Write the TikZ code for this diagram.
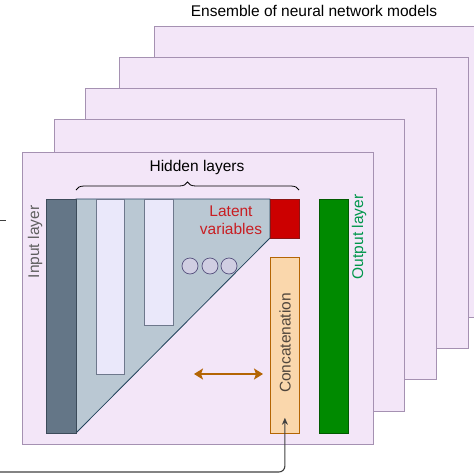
\documentclass[tikz,border=0pt]{standalone}
\usepackage{fontspec}
\setmainfont{Liberation Sans}
\usetikzlibrary{arrows.meta,decorations.pathreplacing,calc}
\definecolor{framefill}{RGB}{243,230,248}
\definecolor{framedraw}{RGB}{165,145,178}
\definecolor{inputfill}{RGB}{100,118,135}
\definecolor{inputdraw}{RGB}{60,75,90}
\definecolor{hidfill}{RGB}{186,200,211}
\definecolor{hiddraw}{RGB}{35,68,93}
\definecolor{barfill}{RGB}{234,232,250}
\definecolor{bardraw}{RGB}{110,120,140}
\definecolor{latentfill}{RGB}{204,0,0}
\definecolor{latentdraw}{RGB}{140,20,20}
\definecolor{latenttext}{RGB}{200,30,35}
\definecolor{outfill}{RGB}{0,138,0}
\definecolor{outdraw}{RGB}{0,90,0}
\definecolor{outtext}{RGB}{0,150,75}
\definecolor{concfill}{RGB}{250,215,172}
\definecolor{concdraw}{RGB}{180,101,4}
\definecolor{conctext}{RGB}{80,70,60}
\definecolor{circfill}{RGB}{208,206,226}
\definecolor{circdraw}{RGB}{86,81,126}
\definecolor{inputtext}{RGB}{95,95,95}
\tikzset{
  frame/.style={draw=framedraw, fill=framefill, line width=0.9pt},
  boxnode/.style={rectangle, inner sep=0pt, anchor=north west, line width=0.8pt},
  lbl/.style={font=\fontsize{15.5}{17.5}\selectfont, inner sep=0pt},
  dot/.style={circle, draw=circdraw, fill=circfill, minimum size=16pt, inner sep=0pt, line width=0.7pt},
}
\begin{document}
\begin{tikzpicture}[x=1pt,y=-1pt]
\useasboundingbox (0,0) rectangle (474,474);
\clip (0,0) rectangle (474,474);
% ensemble frames (back to front)
\draw[frame] (154,26) rectangle (510,317);
\draw[frame] (119,57) rectangle (468,348);
\draw[frame] (85,88) rectangle (436,379);
\draw[frame] (54,119) rectangle (404,411);
\draw[frame] (22,152) rectangle (373,444);
\node[lbl] (ensemble) at (314,11) {Ensemble of neural network models};
% hidden region
\draw[fill=hidfill, draw=hiddraw, line width=0.8pt] (76,199) -- (270,199) -- (270,238) -- (76,433) -- cycle;
% input layer
\node[boxnode, draw=inputdraw, fill=inputfill, minimum width=30pt, minimum height=234pt] (input) at (46,199) {};
\node[lbl, rotate=90, text=inputtext] (inputlbl) at (35,242) {Input layer};
% hidden bars
\node[boxnode, draw=bardraw, fill=barfill, minimum width=28pt, minimum height=175pt] (bar1) at (96,199) {};
\node[boxnode, draw=bardraw, fill=barfill, minimum width=29pt, minimum height=126pt] (bar2) at (144,199) {};
% circles
\node[dot] (c1) at (190,266) {};
\node[dot] (c2) at (210,266) {};
\node[dot] (c3) at (229,266) {};
% latent
\node[boxnode, draw=latentdraw, fill=latentfill, minimum width=29pt, minimum height=39pt] (latent) at (270,199) {};
\node[lbl, text=latenttext, align=center] (latentlbl) at (231,220) {Latent\\[1pt]variables};
% brace
\draw[decorate, decoration={brace, amplitude=8pt}, line width=0.8pt] (76,190) -- (299,190);
\node[lbl] (hidden) at (197,167) {Hidden layers};
% output
\node[boxnode, draw=outdraw, fill=outfill, minimum width=29pt, minimum height=234pt] (output) at (319,199) {};
\node[lbl, rotate=90, text=outtext] (outputlbl) at (359,237) {Output layer};
% concatenation
\node[boxnode, draw=concdraw, fill=concfill, minimum width=29pt, minimum height=176pt] (concat) at (270,257) {};
\node[lbl, rotate=90, text=conctext] (conclbl) at (285,343) {Concatenation};
% orange double arrow
\coordinate (dl) at (194,374);
\coordinate (dr) at (263,374);
\draw[draw=concdraw, line width=2pt, {Stealth[length=9pt,width=11pt,inset=2pt]}-{Stealth[length=9pt,width=11pt,inset=2pt]}] (dl) -- (dr);
% bottom connector
\coordinate (src) at (-5,472);
\coordinate (tip) at ($(concat.south)+(0,-16)$);
\draw[draw=black!75, line width=1.1pt, rounded corners=6pt, -{Stealth[length=7pt,width=6pt]}] (src) -| (tip);
% small tick on the left
\coordinate (tickA) at (-2,220);
\coordinate (tickB) at (6,220);
\draw[black!75, line width=0.9pt] (tickA) -- (tickB);
\end{tikzpicture}
\end{document}
